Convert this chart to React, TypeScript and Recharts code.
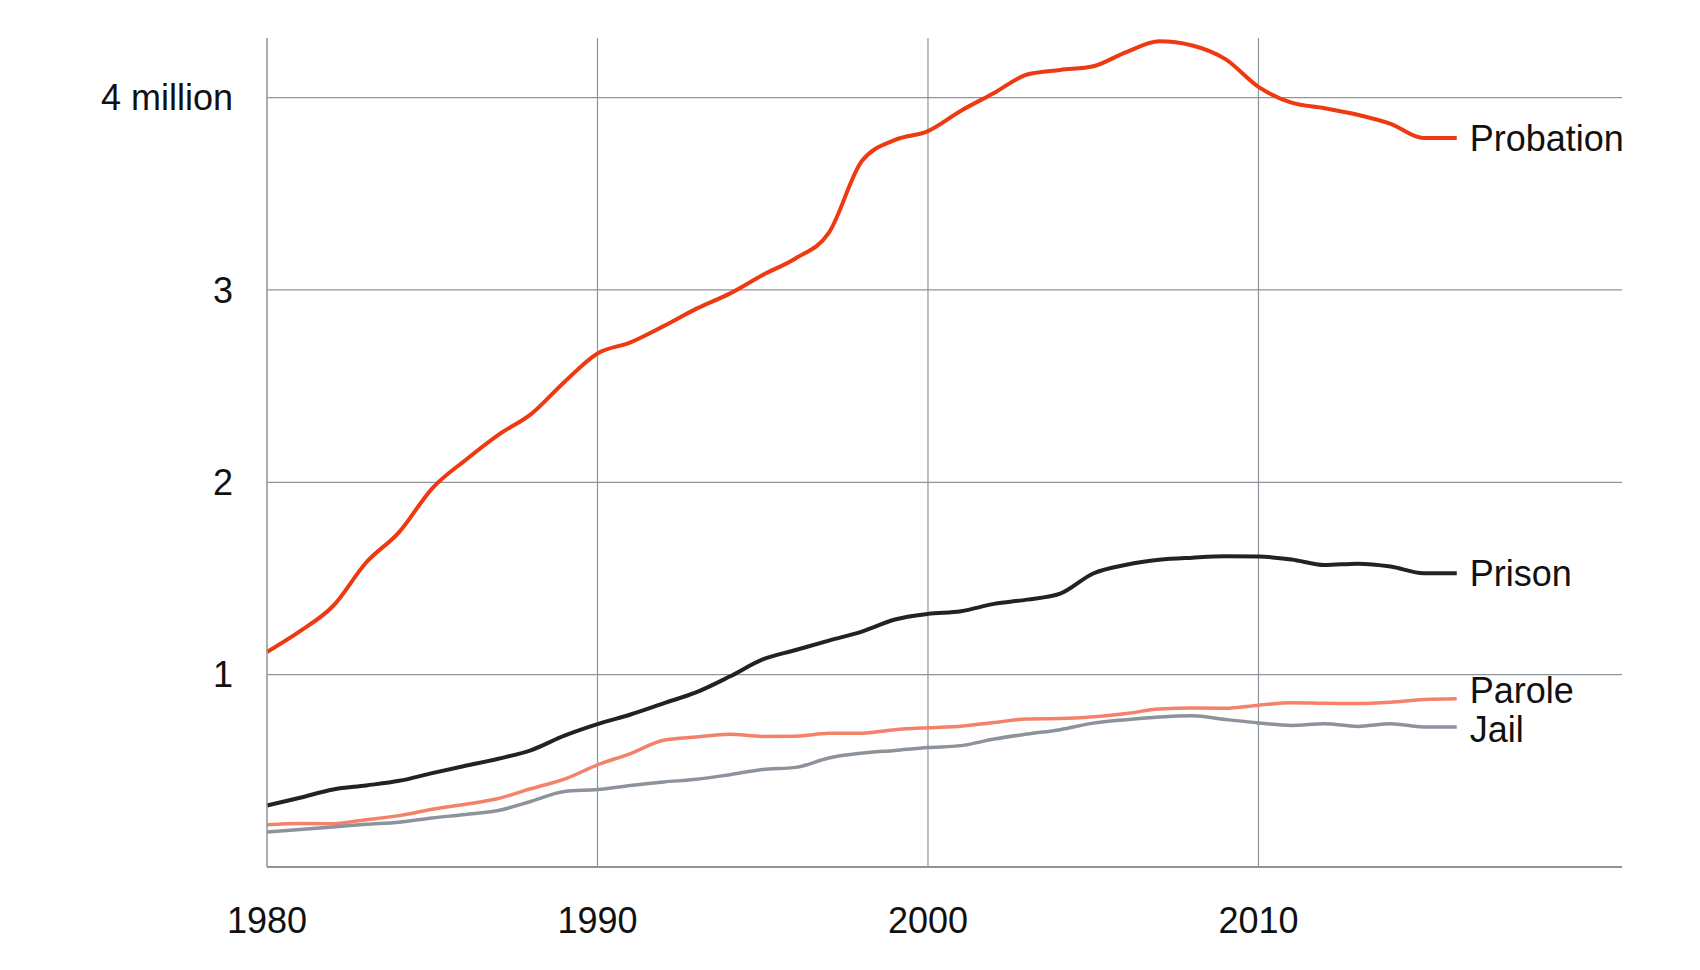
import React from "react";
import { LineChart, Line, XAxis, YAxis, CartesianGrid } from "recharts";

// Correctional population, millions, 1980-2016
const years = [
  1980, 1981, 1982, 1983, 1984, 1985, 1986, 1987, 1988, 1989,
  1990, 1991, 1992, 1993, 1994, 1995, 1996, 1997, 1998, 1999,
  2000, 2001, 2002, 2003, 2004, 2005, 2006, 2007, 2008, 2009,
  2010, 2011, 2012, 2013, 2014, 2015, 2016,
];
const probation = [
  1.118, 1.226, 1.357, 1.583, 1.741, 1.969, 2.115, 2.247, 2.356, 2.522,
  2.670, 2.728, 2.812, 2.903, 2.981, 3.078, 3.165, 3.297, 3.670, 3.780,
  3.826, 3.932, 4.024, 4.120, 4.144, 4.163, 4.237, 4.293, 4.271, 4.200,
  4.056, 3.974, 3.945, 3.911, 3.864, 3.790, 3.790,
];
const prison = [
  0.320, 0.360, 0.403, 0.424, 0.448, 0.488, 0.526, 0.563, 0.608, 0.683,
  0.743, 0.793, 0.851, 0.909, 0.990, 1.079, 1.128, 1.177, 1.224, 1.287,
  1.316, 1.330, 1.368, 1.390, 1.421, 1.526, 1.571, 1.597, 1.608, 1.615,
  1.614, 1.599, 1.570, 1.577, 1.562, 1.527, 1.527,
];
const parole = [
  0.220, 0.226, 0.225, 0.246, 0.267, 0.300, 0.326, 0.356, 0.408, 0.457,
  0.531, 0.590, 0.659, 0.676, 0.690, 0.679, 0.680, 0.695, 0.696, 0.714,
  0.724, 0.732, 0.751, 0.770, 0.772, 0.781, 0.798, 0.821, 0.826, 0.825,
  0.841, 0.854, 0.851, 0.850, 0.857, 0.871, 0.875,
];
const jail = [
  0.182, 0.195, 0.208, 0.222, 0.233, 0.255, 0.273, 0.294, 0.342, 0.393,
  0.403, 0.424, 0.442, 0.456, 0.480, 0.507, 0.518, 0.567, 0.592, 0.606,
  0.621, 0.631, 0.665, 0.691, 0.714, 0.748, 0.766, 0.780, 0.786, 0.767,
  0.749, 0.736, 0.745, 0.731, 0.745, 0.728, 0.728,
];
const xTicks = [1980, 1990, 2000, 2010];
const yTicks = [1, 2, 3, 4];

const data = years.map((year, i) => ({
  year,
  probation: probation[i],
  prison: prison[i],
  parole: parole[i],
  jail: jail[i],
}));

const FONT = "'Liberation Sans', Arial, sans-serif";
const GRID = "#8e949b";

const series = [
  { key: "probation", name: "Probation", color: "#ee3a12", width: 4, dy: 0 },
  { key: "prison", name: "Prison", color: "#222222", width: 4, dy: 0 },
  { key: "parole", name: "Parole", color: "#f4816a", width: 3.5, dy: -9 },
  { key: "jail", name: "Jail", color: "#8c939b", width: 3.5, dy: 2 },
];

// label drawn only next to the last point of each line
const endLabel = (name: string, dy: number) => (props: any) => {
  const { x, y, index } = props;
  if (index !== years.length - 1) return null;
  return (
    <text
      x={x + 13}
      y={y + dy}
      dy="0.36em"
      fill="#111"
      fontSize={36}
      fontFamily={FONT}
      textAnchor="start"
    >
      {name}
    </text>
  );
};

export default function App() {
  return (
    <div
      style={{
        position: "absolute",
        left: 0,
        top: 0,
        width: 1700,
        height: 970,
        background: "#fff",
      }}
    >
      <LineChart
        width={1700}
        height={970}
        data={data}
        margin={{ top: 38, right: 78, bottom: 0, left: 0 }}
      >
        <CartesianGrid
          stroke={GRID}
          strokeWidth={1.2}
          horizontalValues={yTicks}
          verticalValues={[1990, 2000, 2010]}
        />
        <XAxis
          dataKey="year"
          type="number"
          domain={[1980, 2021]}
          ticks={xTicks}
          interval={0}
          height={103}
          axisLine={{ stroke: GRID, strokeWidth: 2 }}
          tickLine={false}
          tickSize={0}
          tickMargin={40}
          tick={{ fontSize: 36, fill: "#111", fontFamily: FONT }}
        />
        <YAxis
          type="number"
          domain={[0, 4.31]}
          ticks={yTicks}
          interval={0}
          width={267}
          axisLine={{ stroke: GRID, strokeWidth: 1.5 }}
          tickLine={false}
          tickSize={0}
          tickMargin={34}
          tick={{ fontSize: 36, fill: "#111", fontFamily: FONT }}
          tickFormatter={(v) => (v === 4 ? "4 million" : String(v))}
        />
        {series.map((s) => (
          <Line
            key={s.key}
            type="monotone"
            dataKey={s.key}
            name={s.name}
            stroke={s.color}
            strokeWidth={s.width}
            strokeLinejoin="round"
            dot={false}
            activeDot={false}
            label={endLabel(s.name, s.dy)}
            isAnimationActive={false}
          />
        ))}
      </LineChart>
    </div>
  );
}
